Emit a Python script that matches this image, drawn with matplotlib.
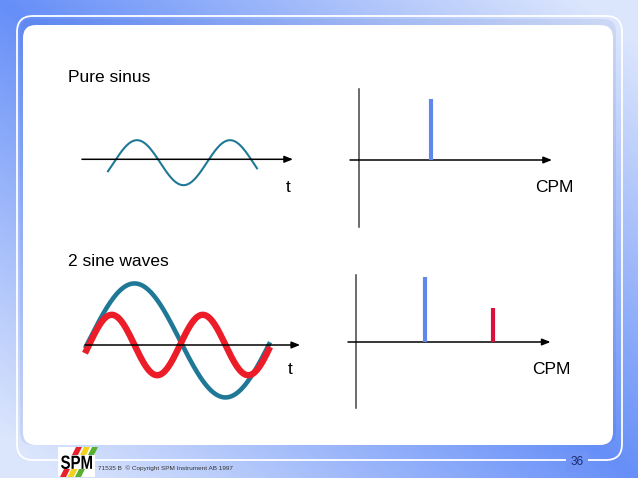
import numpy as np
import matplotlib
matplotlib.use('Agg')
import matplotlib.pyplot as plt
from matplotlib.patches import FancyBboxPatch, Polygon, Rectangle, PathPatch
from matplotlib.textpath import TextPath
from matplotlib.font_manager import FontProperties
from matplotlib.transforms import Affine2D

plt.rcParams['font.family'] = ['Liberation Sans', 'DejaVu Sans']

W, H = 638, 478

# --- data ---
# pure sinus: one frequency, time in periods
pure_t = [-0.062, 1.54]
pure_amp = 1.0
pure_offset = -0.15
pure_axis = [-0.342, 1.927]

# two sine waves: base frequency and its 2x harmonic
two_t = [-0.022, 0.995]
blue_freq, blue_amp, blue_offset = 1, 1.0, 0.08
red_freq, red_amp = 2, 0.53
two_axis = [-0.022, 1.16]

# spectra (CPM in units of the base frequency)
spec1_cpm = [1]
spec1_amp = [1.0]
spec1_colors = ['#5f87ec']
spec2_cpm = [1, 2]
spec2_amp = [1.0, 0.53]
spec2_colors = ['#5f87ec', '#d8123a']

TEAL = '#1f7896'
RED = '#ec1c28'

fig = plt.figure(figsize=(W / 100, H / 100), dpi=100)

# background
bg = fig.add_axes([0, 0, 1, 1])
bg.set_xlim(0, W)
bg.set_ylim(H, 0)
bg.axis('off')
xx, yy = np.meshgrid(np.linspace(0, 1, 320), np.linspace(0, 1, 240))
g = np.clip(np.abs(xx - yy) * 1.1, 0, 1)[..., None]
dark = np.array([0.40, 0.56, 0.97])
light = np.array([0.86, 0.90, 0.99])
bg.imshow(dark + (light - dark) * g, extent=[0, W, H, 0], aspect='auto', zorder=0)

# darker band under the top of the white card
bg.add_patch(FancyBboxPatch((20, 19), 596, 426, boxstyle='round,pad=0,rounding_size=13',
                            fc='#1a3aa0', ec='none', alpha=0.08, zorder=1))
# thin white frame
bg.add_patch(FancyBboxPatch((17, 16), 605, 444, boxstyle='round,pad=0,rounding_size=16',
                            fc='none', ec='white', lw=1.3, zorder=1))
# white card
bg.add_patch(FancyBboxPatch((23, 25), 590, 420, boxstyle='round,pad=0,rounding_size=13',
                            fc='white', ec='none', zorder=2))

# page number with gap in the frame line
bg.text(577, 462, '36', fontsize=8.5, color='#1c2a6e', ha='center', va='center', zorder=3,
        bbox=dict(boxstyle='square,pad=0.35', fc='#6f94f6', ec='none'))

# SPM logo
bg.add_patch(Rectangle((58, 447), 37, 30, fc='white', ec='none', zorder=3))
for i, c in enumerate(['#e8202a', '#f2d21a', '#58b030']):
    x = 72 + i * 8
    bg.add_patch(Polygon([[x, 455], [x + 6, 455], [x + 10, 447], [x + 4, 447]], fc=c, ec='none', zorder=4))
    x = 60 + i * 7.5
    bg.add_patch(Polygon([[x, 477], [x + 6, 477], [x + 10, 469], [x + 4, 469]], fc=c, ec='none', zorder=4))
tp = TextPath((0, 0), 'SPM', size=10, prop=FontProperties(family='Liberation Sans', weight='bold'))
ext = tp.get_extents()
sx_ = 31 / ext.width
sy_ = 13.5 / ext.height
tr = Affine2D().translate(-ext.x0, -ext.y0).scale(sx_, -sy_).translate(61, 469)
bg.add_patch(PathPatch(tr.transform_path(tp), fc='black', ec='none', zorder=4))
bg.text(98, 468, '71535 B  \u00a9 Copyright SPM Instrument AB 1997', fontsize=4.6,
        color='#333333', ha='left', va='center', zorder=3)

# titles and axis labels
bg.text(68, 77, 'Pure sinus', fontsize=12.5, ha='left', va='center', zorder=3)
bg.text(68, 262, '2 sine waves', fontsize=12.5, ha='left', va='center', zorder=3)
bg.text(288, 188, 't', fontsize=12.5, ha='center', va='center', zorder=3)
bg.text(290, 370, 't', fontsize=12.5, ha='center', va='center', zorder=3)
bg.text(554, 188, 'CPM', fontsize=12.5, ha='center', va='center', zorder=3)
bg.text(551, 369, 'CPM', fontsize=12.5, ha='center', va='center', zorder=3)


def panel(box, x0, sx, y0, sy):
    # box = (left, top, right, bottom) in pixels; x0/y0 pixel of data origin; sx/sy pixels per unit
    l, t, r, b = box
    ax = fig.add_axes([l / W, 1 - b / H, (r - l) / W, (b - t) / H])
    ax.set_xlim((l - x0) / sx, (r - x0) / sx)
    ax.set_ylim((y0 - b) / sy, (y0 - t) / sy)
    ax.axis('off')
    ax.patch.set_alpha(0)
    return ax


def time_axis(ax, span):
    ax.annotate('', xy=(span[1], 0), xytext=(span[0], 0),
                arrowprops=dict(arrowstyle='-|>,head_length=0.5,head_width=0.2', lw=1.1,
                                color='black', shrinkA=0, shrinkB=0))


# pure sinus
ax1 = panel((70, 100, 305, 210), 113.75, 93, 159.3, 22.5)
time_axis(ax1, pure_axis)
t = np.linspace(pure_t[0], pure_t[1], 400)
ax1.plot(t, pure_amp * np.sin(2 * np.pi * t) + pure_offset, color=TEAL, lw=1.5)

# two sine waves
ax2 = panel((75, 270, 310, 410), 89, 182, 345, 57)
t = np.linspace(two_t[0], two_t[1], 400)
ax2.plot(t, blue_amp * np.sin(2 * np.pi * blue_freq * t) + blue_offset, color=TEAL, lw=3.3,
         solid_capstyle='butt')
ax2.plot(t, red_amp * np.sin(2 * np.pi * red_freq * t), color=RED, lw=4.6, solid_capstyle='butt')
time_axis(ax2, two_axis)


def spectrum(ax, cpm, amp, colors, hspan, vspan):
    ax.plot([0, 0], vspan, color='#444444', lw=1.1)
    time_axis(ax, hspan)
    ax.vlines(cpm, 0, amp, colors=colors, lw=3, zorder=3)


ax3 = panel((340, 80, 570, 235), 359, 72, 160, 61)
spectrum(ax3, spec1_cpm, spec1_amp, spec1_colors, [-0.125, 2.68], [-1.10, 1.16])

ax4 = panel((340, 265, 570, 415), 356, 68.5, 342, 65)
spectrum(ax4, spec2_cpm, spec2_amp, spec2_colors, [-0.117, 2.84], [-1.02, 1.03])

fig.savefig('out.png', dpi=100)
